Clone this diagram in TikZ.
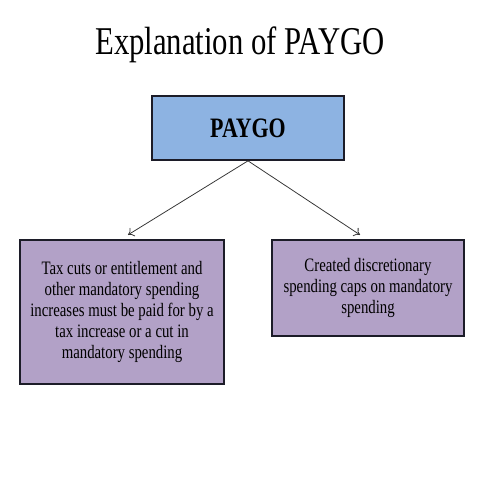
\documentclass[tikz,border=0pt]{standalone}
\usepackage{fontspec}
\setmainfont[FakeStretch=0.78]{Liberation Serif}
\usetikzlibrary{positioning, arrows.meta}

\definecolor{paygoblue}{RGB}{141,179,226}
\definecolor{rulepurple}{RGB}{178,161,199}
\definecolor{boxline}{RGB}{28,28,40}

\tikzstyle{headbox} = [rectangle, minimum width=4.8cm, minimum height=1.6cm, text centered, draw=boxline, line width=1.2pt, fill=paygoblue, font=\fontsize{20}{24}\selectfont\bfseries]
\tikzstyle{rulebox} = [rectangle, minimum height=3.6cm, text centered, draw=boxline, line width=1.2pt, fill=rulepurple, align=center, font=\fontsize{13.5}{15}\selectfont]
\tikzstyle{arrow} = [line width=0.55pt, draw=black!80, -{To[length=4pt, width=7pt]}]

\begin{document}
\begin{tikzpicture}[node distance = 1.95cm]
	\useasboundingbox (0,0) rectangle (12,-12);
	% Place nodes
	\node [anchor=base, font=\fontsize{28}{32}\selectfont] (Title) at (6,-1.35) {Explanation of PAYGO};
	\node [headbox] (Paygo) at (6.2,-3.2) {PAYGO};
	\node [rulebox, minimum width=5.1cm, below=of Paygo, xshift=-3.15cm] (TaxCuts) {Tax cuts or entitlement and\\other mandatory spending\\increases must be paid for by a\\tax increase or a cut in\\mandatory spending};
	\node [rulebox, minimum width=4.8cm, minimum height=2.4cm, below=of Paygo, xshift=3cm] (SpendingCaps) {Created discretionary\\spending caps on mandatory\\spending};
	% Draw edges
	\draw [arrow] (Paygo.south) -- ([xshift=0.15cm, yshift=0.1cm]TaxCuts.north);
	\draw [arrow] (Paygo.south) -- ([xshift=-0.2cm, yshift=0.1cm]SpendingCaps.north);
\end{tikzpicture}
\end{document}
